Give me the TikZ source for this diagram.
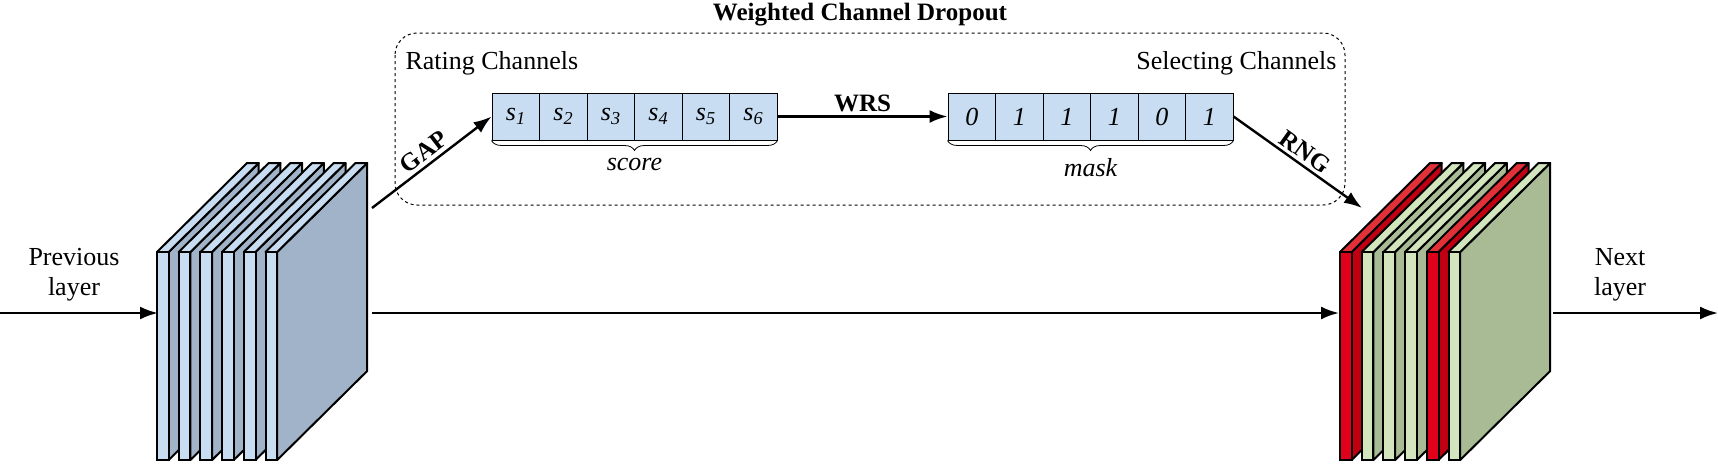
\documentclass[tikz,border=0pt]{standalone}
\usepackage{fontspec}
\setmainfont{Liberation Serif}
\usetikzlibrary{positioning,decorations.pathreplacing,arrows.meta}

\definecolor{bfront}{HTML}{C8DDF2}
\definecolor{bside}{HTML}{A0B3C8}
\definecolor{gfront}{HTML}{D3E5BC}
\definecolor{gside}{HTML}{A8BB95}
\definecolor{rfront}{HTML}{E1001B}
\definecolor{rside}{HTML}{C00012}
\definecolor{rtop}{HTML}{E23038}

% one slab: x of front-left, front colour, side colour, top colour
\newcommand{\slab}[4]{
  \fill[#3, draw=black, line width=2pt, line join=round]
    (#1+11.7,252) -- ++(90,-89) -- ++(0,208) -- (#1+11.7,460) -- cycle;
  \fill[#4, draw=black, line width=2pt, line join=round]
    (#1,252) -- ++(90,-89) -- ++(11.7,0) -- (#1+11.7,252) -- cycle;
  \fill[#2, draw=black, line width=2pt] (#1,252) rectangle (#1+11.7,460);
}

\begin{document}
\begin{tikzpicture}[x=1pt, y=-1pt, font=\fontsize{26}{30}\selectfont,
    cell/.style={draw, fill=bfront, minimum width=47.5pt, minimum height=47pt,
      inner sep=0pt, line width=1pt, font=\fontsize{26}{30}\selectfont\itshape},
    link/.style={-{Latex[length=18pt,width=13pt]}, line width=2.4pt},
    lab/.style={font=\fontsize{25}{30}\selectfont\bfseries}]
  \useasboundingbox (0,0) rectangle (1718,471);

  % title and dashed frame
  \node[lab] (title) at (860,15) {Weighted Channel Dropout};
  \draw[dashed, rounded corners=22pt, line width=1pt] (395,33) rectangle (1345,205);
  \node[anchor=west] (rate) at (402,63) {Rating Channels};
  \node[anchor=east] (select) at (1340,63) {Selecting Channels};

  % score and mask vectors
  \foreach \i in {1,...,6}
    \node[cell] (s\i) at (492+47.5*\i-23.75,116.5) {s\textsubscript{\i}};
  \foreach \v [count=\i] in {0,1,1,1,0,1}
    \node[cell] (m\i) at (948+47.5*\i-23.75,116.5) {\v};
  \draw[decorate, decoration={brace, mirror, amplitude=10pt}, line width=0.8pt]
    (s1.south west) -- (s6.south east) node[midway, below=14pt, font=\fontsize{26}{30}\selectfont\itshape] (score) {score};
  \draw[decorate, decoration={brace, mirror, amplitude=10pt}, line width=0.8pt]
    (m1.south west) -- (m6.south east) node[midway, below=14pt, font=\fontsize{26}{30}\selectfont\itshape] (mask) {mask};

  % feature stacks
  \foreach \k in {0,...,5}
    \slab{157+21.7*\k}{bfront}{bside}{bfront};
  \foreach \f/\s/\t [count=\k from 0] in {rfront/rside/rtop, gfront/gside/gfront,
      gfront/gside/gfront, gfront/gside/gfront, rfront/rside/rtop, gfront/gside/gfront}
    \slab{1340+21.7*\k}{\f}{\s}{\t};

  \coordinate (inL) at (158,313);
  \coordinate (outL) at (372,313);
  \coordinate (gapS) at (372,208);
  \coordinate (inR) at (1339,313);
  \coordinate (rngE) at (1362,208);
  \coordinate (outR) at (1553,313);
  \coordinate (start) at (0,313);
  \coordinate (finish) at (1718,313);

  % connectors
  \draw[link] (start) -- (inL);
  \draw[link] (outL) -- (inR);
  \draw[link] (outR) -- (finish);
  \draw[link] (gapS) -- (s1.west) node[lab, midway, above, sloped] (gap) {GAP};
  \draw[link] (s6.east) -- (m1.west) node[lab, midway, above] (wrs) {WRS};
  \draw[link] (m6.east) -- (rngE) node[lab, midway, above, sloped] (rng) {RNG};

  \node[align=center] (prev) at (74,275) {Previous\\layer};
  \node[align=center] (next) at (1620,275) {Next\\layer};
\end{tikzpicture}
\end{document}
